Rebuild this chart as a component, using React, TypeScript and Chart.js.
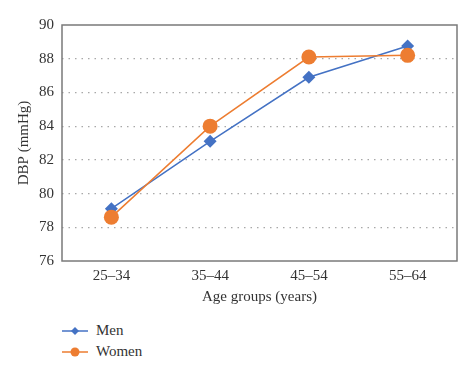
import React, { useEffect, useRef } from "react";
import { Chart, registerables } from "chart.js";

Chart.register(...registerables);

const categories = ["25–34", "35–44", "45–54", "55–64"];
const menValues = [79.1, 83.1, 86.9, 88.75];
const womenValues = [78.6, 84.0, 88.1, 88.2];
const yTicks = [76, 78, 80, 82, 84, 86, 88, 90];

const BLUE = "#4472C4";
const ORANGE = "#ED7D31";
const FONT = "'Liberation Serif', 'Times New Roman', serif";
const TEXT = "#333333";

const framePlugin = {
  id: "frame",
  afterDatasetsDraw(chart: any) {
    const { ctx, chartArea } = chart;
    ctx.save();
    ctx.strokeStyle = "#7a7a7a";
    ctx.lineWidth = 1.5;
    ctx.strokeRect(chartArea.left, chartArea.top, chartArea.right - chartArea.left, chartArea.bottom - chartArea.top);
    ctx.restore();
  },
};

function LegendItem({ color, shape, label }: { color: string; shape: "diamond" | "circle"; label: string }) {
  return (
    <div style={{ display: "flex", alignItems: "center", height: 21 }}>
      <svg width={26} height={14} style={{ marginRight: 8 }}>
        <line x1={0} y1={7} x2={26} y2={7} stroke={color} strokeWidth={1.5} />
        {shape === "diamond" ? (
          <polygon points="13,3 17,7 13,11 9,7" fill={color} />
        ) : (
          <circle cx={13} cy={7} r={4.5} fill={color} />
        )}
      </svg>
      <span style={{ fontFamily: FONT, fontSize: 15, color: TEXT }}>{label}</span>
    </div>
  );
}

export default function App() {
  const ref = useRef<HTMLCanvasElement | null>(null);

  useEffect(() => {
    if (!ref.current) return;
    const chart = new Chart(ref.current, {
      type: "line",
      data: {
        labels: categories,
        datasets: [
          {
            label: "Men",
            data: menValues,
            borderColor: BLUE,
            backgroundColor: BLUE,
            borderWidth: 1.5,
            pointStyle: "rectRot",
            pointRadius: 6.5,
            pointBorderWidth: 0,
            tension: 0,
            order: 1,
          },
          {
            label: "Women",
            data: womenValues,
            borderColor: ORANGE,
            backgroundColor: ORANGE,
            borderWidth: 1.5,
            pointStyle: "circle",
            pointRadius: 7.5,
            pointBorderWidth: 0,
            tension: 0,
            order: 0,
          },
        ],
      },
      options: {
        animation: false,
        responsive: false,
        layout: { padding: { top: 15, right: 9, left: 0, bottom: 0 } },
        plugins: {
          legend: { display: false },
          tooltip: { enabled: false },
        },
        scales: {
          x: {
            offset: true,
            grid: { display: false, drawTicks: false },
            border: { display: false },
            ticks: { color: TEXT, font: { family: FONT, size: 15 }, padding: 6 },
            title: {
              display: true,
              text: "Age groups (years)",
              color: TEXT,
              font: { family: FONT, size: 15 },
              padding: { top: 0, bottom: 2 },
            },
            afterFit: (s: any) => {
              s.height = 47;
            },
          },
          y: {
            min: 76,
            max: 90,
            afterBuildTicks: (s: any) => {
              s.ticks = yTicks.map((v) => ({ value: v }));
            },
            grid: {
              drawTicks: false,
              color: (c: any) => (c.tick && (c.tick.value === 76 || c.tick.value === 90) ? "rgba(0,0,0,0)" : "#a8a8a8"),
              lineWidth: 1.2,
            },
            border: { display: false, dash: [1.5, 5] },
            ticks: { color: TEXT, font: { family: FONT, size: 15 }, padding: 8 },
            title: {
              display: true,
              text: "DBP (mmHg)",
              color: TEXT,
              font: { family: FONT, size: 15 },
              padding: { top: 7, bottom: 0 },
            },
            afterFit: (s: any) => {
              s.width = 54;
            },
          },
        },
      },
      plugins: [framePlugin],
    });
    return () => chart.destroy();
  }, []);

  return (
    <div style={{ width: 458 }}>
      <canvas ref={ref} width={458} height={300} style={{ display: "block" }} />
      <div style={{ marginTop: 12, marginLeft: 54 }}>
        <LegendItem color={BLUE} shape="diamond" label="Men" />
        <LegendItem color={ORANGE} shape="circle" label="Women" />
      </div>
    </div>
  );
}
